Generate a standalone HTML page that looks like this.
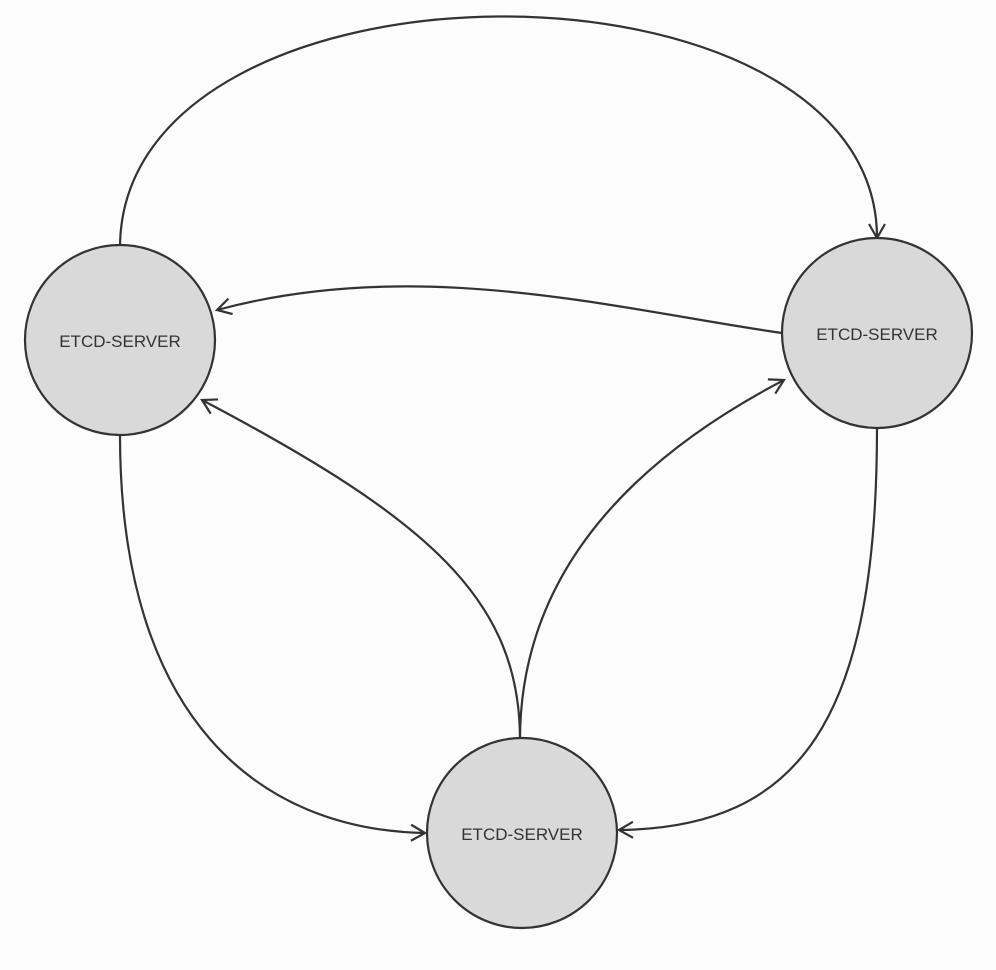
<!DOCTYPE html>
<html><head><meta charset="utf-8"><style>
html,body{margin:0;padding:0;background:#fcfcfc;width:996px;height:970px;overflow:hidden}
svg{display:block}
text{font-family:"Liberation Sans",sans-serif;font-size:17px;fill:#333}
</style></head><body>
<svg width="996" height="970" viewBox="0 0 996 970">
<defs>
<marker id="a" markerWidth="20" markerHeight="20" refX="16" refY="10" orient="auto" markerUnits="userSpaceOnUse">
<path d="M2,2 L16,10 L2,18" fill="none" stroke="#333" stroke-width="2.2"/>
</marker>
</defs>
<g fill="none" stroke="#333" stroke-width="2.2">
<path d="M120,248 C120,-59 877,-59 877,238" marker-end="url(#a)"/>
<path d="M782,333 C620,310 420,255 217,310" marker-end="url(#a)"/>
<path d="M520,740 C520,600 430,520 202,400" marker-end="url(#a)"/>
<path d="M520,740 C520,560 650,450 784,380" marker-end="url(#a)"/>
<path d="M120,435 C120,720 260,830 425,833" marker-end="url(#a)"/>
<path d="M877,428 C877,720 800,828 619,830" marker-end="url(#a)"/>
</g>
<g fill="#d9d9d9" stroke="#333" stroke-width="2.2">
<circle cx="120" cy="340" r="95"/>
<circle cx="877" cy="333" r="95"/>
<circle cx="522" cy="833" r="95"/>
</g>
<text x="120" y="347" text-anchor="middle" font-size="18">ETCD-SERVER</text>
<text x="877" y="340" text-anchor="middle" font-size="18">ETCD-SERVER</text>
<text x="522" y="840" text-anchor="middle" font-size="18">ETCD-SERVER</text>
</svg>
</body></html>
